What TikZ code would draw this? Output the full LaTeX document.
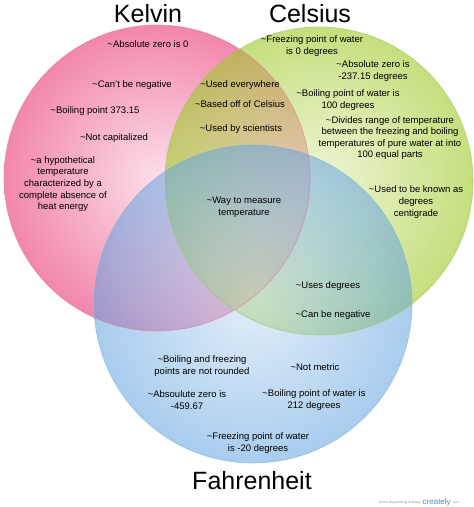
\documentclass[tikz,border=0pt]{standalone}
\usepackage{fontspec}
\setmainfont{Liberation Sans}
\definecolor{kin}{RGB}{252,222,234}
\definecolor{kout}{RGB}{242,135,172}
\definecolor{kedge}{RGB}{230,120,158}
\definecolor{cin}{RGB}{227,240,188}
\definecolor{cout}{RGB}{158,202,40}
\definecolor{cedge}{RGB}{160,200,95}
\definecolor{fin}{RGB}{200,224,246}
\definecolor{fout}{RGB}{100,164,224}
\definecolor{fedge}{RGB}{130,178,222}
\definecolor{wmblue}{RGB}{70,140,200}
\tikzset{
  txt/.style={align=center, inner sep=0pt, font=\fontsize{9.5}{11.6}\selectfont, text=black},
  ttl/.style={inner sep=0pt, font=\fontsize{25}{28}\selectfont, text=black},
}
\begin{document}
\begin{tikzpicture}[x=1pt,y=-1pt]
\useasboundingbox (0,0) rectangle (474,507);
\fill[white] (0,0) rectangle (474,507);
% circles
\shade[inner color=kin, outer color=kout] (157,178) circle (153);
\shade[inner color=cin, outer color=cout, opacity=0.6] (319,181) circle (154);
\shade[inner color=fin, outer color=fout, opacity=0.55] (253,304) circle (159);
\draw[kedge, line width=0.6pt, opacity=0.7] (157,178) circle (153);
\draw[cedge, line width=0.6pt, opacity=0.7] (319,181) circle (154);
\draw[fedge, line width=0.6pt, opacity=0.7] (253,304) circle (159);
% titles
\node[ttl] (kelvin) at (148,14) {Kelvin};
\node[ttl] (celsius) at (310,14) {Celsius};
\node[ttl] (fahr) at (252,481) {Fahrenheit};
% Kelvin only
\node[txt] (k1) at (148,44) {\textasciitilde Absolute zero is 0};
\node[txt] (k2) at (132,85) {\textasciitilde Can't be negative};
\node[txt] (k3) at (95,111) {\textasciitilde Boiling point 373.15};
\node[txt] (k4) at (114,138) {\textasciitilde Not capitalized};
\node[txt] (k5) at (63,184) {\textasciitilde a hypothetical\\temperature\\characterized by a\\complete absence of\\heat energy};
% Kelvin & Celsius
\node[txt] (kc1) at (240,85) {\textasciitilde Used everywhere};
\node[txt] (kc2) at (240,104) {\textasciitilde Based off of Celsius};
\node[txt] (kc3) at (241,129) {\textasciitilde Used by scientists};
% Celsius only
\node[txt] (c1) at (312,46) {\textasciitilde Freezing point of water\\is 0 degrees};
\node[txt] (c2) at (373,71) {\textasciitilde Absolute zero is\\-237.15 degrees};
\node[txt] (c3) at (348,100) {\textasciitilde Boiling point of water is\\100 degrees};
\node[txt] (c4) at (390,138) {\textasciitilde Divides range of temperature\\between the freezing and boiling\\temperatures of pure water at into\\100 equal parts};
\node[txt] (c5) at (416,202) {\textasciitilde Used to be known as\\degrees\\centigrade};
% all three
\node[txt] (all) at (244,207) {\textasciitilde Way to measure\\temperature};
% Celsius & Fahrenheit
\node[txt] (cf1) at (328,286) {\textasciitilde Uses degrees};
\node[txt] (cf2) at (333,315) {\textasciitilde Can be negative};
% Fahrenheit only
\node[txt] (f1) at (202,366) {\textasciitilde Boiling and freezing\\points are not rounded};
\node[txt] (f2) at (315,367) {\textasciitilde Not metric};
\node[txt] (f3) at (187,400) {\textasciitilde Absoulute zero is\\-459.67};
\node[txt] (f4) at (314,400) {\textasciitilde Boiling point of water is\\212 degrees};
\node[txt] (f5) at (258,443) {\textasciitilde Freezing point of water\\is -20 degrees};
% watermark
\node[inner sep=0pt, anchor=east, font=\fontsize{3.2}{4}\selectfont, text=black!45] (wm1) at (421,502.5) {Online diagramming \& design};
\node[inner sep=0pt, anchor=west, font=\fontsize{8}{9}\selectfont, text=wmblue] (wm2) at (wm1.east) {\hspace{1.5pt}creately};
\node[inner sep=0pt, anchor=west, font=\fontsize{3.2}{4}\selectfont, text=black!45] (wm3) at (wm2.east) {\hspace{1pt}.com};
\end{tikzpicture}
\end{document}
